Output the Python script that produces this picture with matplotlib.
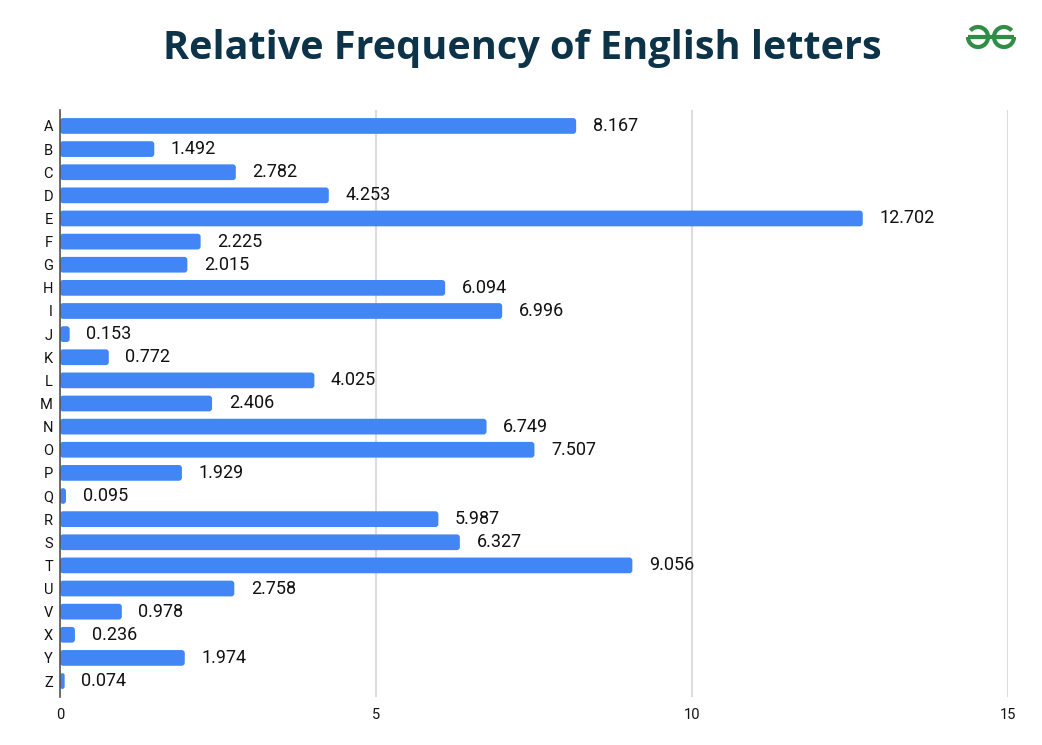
import matplotlib.pyplot as plt
from matplotlib.patches import Arc, FancyBboxPatch

letters = ['A', 'B', 'C', 'D', 'E', 'F', 'G', 'H', 'I', 'J', 'K', 'L', 'M',
           'N', 'O', 'P', 'Q', 'R', 'S', 'T', 'U', 'V', 'X', 'Y', 'Z']
freq = [8.167, 1.492, 2.782, 4.253, 12.702, 2.225, 2.015, 6.094, 6.996, 0.153,
        0.772, 4.025, 2.406, 6.749, 7.507, 1.929, 0.095, 5.987, 6.327, 9.056,
        2.758, 0.978, 0.236, 1.974, 0.074]
xticks = [0, 5, 10, 15]

W, H = 1042, 745
fig = plt.figure(figsize=(W / 100, H / 100), dpi=100)

# axes placed in pixel terms
x0, x1 = 60, 1008
y0, y1 = 110, 697
ax = fig.add_axes([x0 / W, 1 - y1 / H, (x1 - x0) / W, (y1 - y0) / H])

pos = list(range(len(letters)))
bars = ax.barh(pos, freq, height=0.68, color='#4285F4', zorder=3)

# swap plain bars for rounded ones (rounding ~3px)
px_x = 15 / (x1 - x0)
px_y = 25.38 / (y1 - y0)
for b in bars:
    bx, by = b.get_x(), b.get_y()
    bw, bh = b.get_width(), b.get_height()
    r = min(3 * px_x, bw / 2)
    patch = FancyBboxPatch((bx, by), bw, bh,
                           boxstyle=f'round,pad=0,rounding_size={r}',
                           mutation_aspect=px_y / px_x,
                           facecolor='#4285F4', edgecolor='none', zorder=3)
    b.set_visible(False)
    ax.add_patch(patch)

for p, v in zip(pos, freq):
    ax.annotate(f'{v:.3f}', (v, p), xytext=(12, 0), textcoords='offset points',
                va='center', ha='left', fontsize=13, family='Roboto', color='#111111')

ax.set_xlim(0, 15)
ax.set_ylim(24.69, -0.69)
ax.set_xticks(xticks)
ax.set_yticks(pos)
ax.set_yticklabels(letters)
ax.tick_params(axis='both', length=0, labelsize=10.5, colors='#111111')
ax.tick_params(axis='x', pad=8)
ax.tick_params(axis='y', pad=5)
for lab in ax.get_xticklabels() + ax.get_yticklabels():
    lab.set_family('Roboto')
ax.grid(axis='x', color='#dddddd', linewidth=1.5, zorder=0)
ax.grid(axis='y', visible=False)
for s in ['top', 'right', 'bottom']:
    ax.spines[s].set_visible(False)
ax.spines['left'].set_color('#555555')
ax.spines['left'].set_linewidth(1.2)
ax.spines['left'].set_zorder(4)

fig.text(522 / W, 1 - 48 / H, 'Relative Frequency of English letters',
         ha='center', va='center', fontsize=28.5, fontweight='bold',
         family='Open Sans', color='#0D3349')

# logo
lax = fig.add_axes([960 / W, 1 - 54 / H, 62 / W, 34 / H])
lax.set_xlim(0, 62)
lax.set_ylim(0, 34)
lax.set_aspect('equal')
lax.axis('off')
green = '#2F8D46'
lax.add_patch(Arc((18, 17), 20, 20, theta1=180, theta2=500, color=green, lw=3))
lax.add_patch(Arc((44, 17), 20, 20, theta1=40, theta2=360, color=green, lw=3))
lax.plot([8, 54], [17, 17], color=green, lw=3, solid_capstyle='butt')

fig.savefig('out.png', dpi=100)
